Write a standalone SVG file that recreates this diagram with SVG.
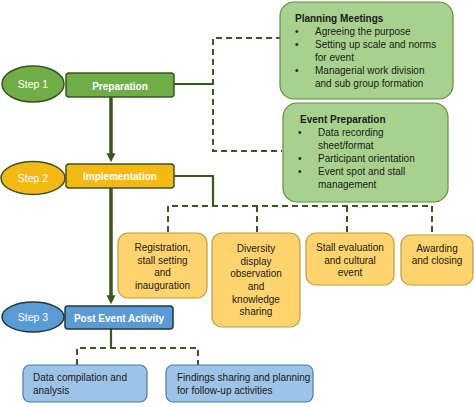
<svg xmlns="http://www.w3.org/2000/svg" width="474" height="407" viewBox="0 0 474 407">
<defs>
<style>
text{font-family:"Liberation Sans",Arial,sans-serif;}
.t{font-size:10px;fill:#1a1a1a;}
.c{text-anchor:middle;}
.w{fill:#ffffff;font-weight:bold;font-size:10px;}
.sw{fill:#ffffff;font-size:10.5px;}
.ln{fill:none;stroke:#385723;stroke-width:2.2;}
.ar{fill:none;stroke:#385723;stroke-width:3.5;}
.dl{fill:none;stroke:#385723;stroke-width:2;stroke-dasharray:6 4;}
.gk{fill:#70ad47;stroke:#375623;stroke-width:1.5;}
.or{fill:#f5b913;stroke:#375623;stroke-width:1.5;}
.bl{fill:#5b9bd5;stroke:#1e3a34;stroke-width:1.5;}
.lg{fill:#a9d18e;stroke:#5f8f44;stroke-width:1.2;}
.lo{fill:#ffd36e;stroke:#c49a3c;stroke-width:1.2;}
.lb{fill:#9dc3e6;stroke:#4c7aa8;stroke-width:1.2;}
</style>
<marker id="ah" viewBox="0 0 10 10" refX="2" refY="5" markerUnits="userSpaceOnUse" markerWidth="9" markerHeight="11" orient="auto">
<path d="M0,0 L10,5 L0,10 z" fill="#385723"/>
</marker>
</defs>
<rect width="474" height="407" fill="#ffffff"/>

<g id="connectors">
<path class="ln" d="M174,84 H213"/>
<path class="dl" d="M282,38 H213 V151 H282"/>
<path class="ln" d="M174,176 H213 V206"/>
<path class="dl" d="M168,232 V206 H432 V233"/>
<path class="dl" d="M257,206 V233"/>
<path class="dl" d="M347,206 V233"/>
<path class="ar" d="M111,97 V155" marker-end="url(#ah)"/>
<path class="ar" d="M111,188 V297" marker-end="url(#ah)"/>
<path class="ln" d="M111,329 V348" stroke-width="3"/>
<path class="dl" d="M77,365 V348 H198 V365"/>
</g>

<g id="step1">
<ellipse class="gk" cx="33" cy="84" rx="31" ry="18"/>
<text class="sw c" x="33" y="87.5">Step 1</text>
</g>
<g id="preparation">
<rect class="gk" x="66" y="73" width="108" height="24" rx="3"/>
<text class="w c" x="120" y="89.5">Preparation</text>
</g>
<g id="step2">
<ellipse class="or" cx="33" cy="178" rx="32" ry="16.5"/>
<text class="sw c" x="33" y="181.5">Step 2</text>
</g>
<g id="implementation">
<rect class="or" x="66" y="164" width="108" height="24" rx="3"/>
<text class="w c" x="120" y="180">Implementation</text>
</g>
<g id="step3">
<ellipse class="bl" cx="33" cy="317" rx="31" ry="15"/>
<text class="sw c" x="33" y="320.5">Step 3</text>
</g>
<g id="post-event">
<rect class="bl" x="65" y="306" width="108" height="23" rx="3"/>
<text class="w c" x="119" y="321.5">Post Event Activity</text>
</g>

<g id="planning-meetings">
<rect class="lg" x="280" y="2" width="173" height="97" rx="14"/>
<text class="t" font-weight="bold" x="295" y="22">Planning Meetings</text>
<text class="t" x="295" y="35">•</text><text class="t" x="315" y="35">Agreeing the purpose</text>
<text class="t" x="295" y="48">•</text><text class="t" x="315" y="48">Setting up scale and norms</text>
<text class="t" x="315" y="61">for event</text>
<text class="t" x="295" y="74">•</text><text class="t" x="315" y="74">Managerial work division</text>
<text class="t" x="315" y="87">and sub group formation</text>
</g>

<g id="event-preparation">
<rect class="lg" x="283" y="103" width="165" height="99" rx="14"/>
<text class="t" font-weight="bold" x="300" y="123">Event Preparation</text>
<text class="t" x="298" y="136">•</text><text class="t" x="318" y="136">Data recording</text>
<text class="t" x="318" y="149">sheet/format</text>
<text class="t" x="298" y="162">•</text><text class="t" x="318" y="162">Participant orientation</text>
<text class="t" x="298" y="175">•</text><text class="t" x="318" y="175">Event spot and stall</text>
<text class="t" x="318" y="188">management</text>
</g>

<g id="registration">
<rect class="lo" x="118" y="233" width="89" height="65" rx="10"/>
<text class="t c" x="162.5" y="251">Registration,</text>
<text class="t c" x="162.5" y="264">stall setting</text>
<text class="t c" x="162.5" y="276">and</text>
<text class="t c" x="162.5" y="289">inauguration</text>
</g>
<g id="diversity">
<rect class="lo" x="212" y="233" width="88" height="94" rx="10"/>
<text class="t c" x="256" y="252">Diversity</text>
<text class="t c" x="256" y="265">display</text>
<text class="t c" x="256" y="277">observation</text>
<text class="t c" x="256" y="290">and</text>
<text class="t c" x="256" y="303">knowledge</text>
<text class="t c" x="256" y="315">sharing</text>
</g>
<g id="stall-evaluation">
<rect class="lo" x="306" y="233" width="88" height="52" rx="10"/>
<text class="t c" x="350" y="251">Stall evaluation</text>
<text class="t c" x="350" y="264">and cultural</text>
<text class="t c" x="350" y="276">event</text>
</g>
<g id="awarding">
<rect class="lo" x="401" y="235" width="72" height="50" rx="10"/>
<text class="t c" x="437" y="252">Awarding</text>
<text class="t c" x="437" y="264">and closing</text>
</g>

<g id="data-compilation">
<rect class="lb" x="23" y="365" width="124" height="37" rx="7"/>
<text class="t" x="33" y="381">Data compilation and</text>
<text class="t" x="33" y="394">analysis</text>
</g>
<g id="findings">
<rect class="lb" x="166" y="365" width="147" height="37" rx="7"/>
<text class="t" x="177" y="381">Findings sharing and planning</text>
<text class="t" x="177" y="394">for follow-up activities</text>
</g>
</svg>
